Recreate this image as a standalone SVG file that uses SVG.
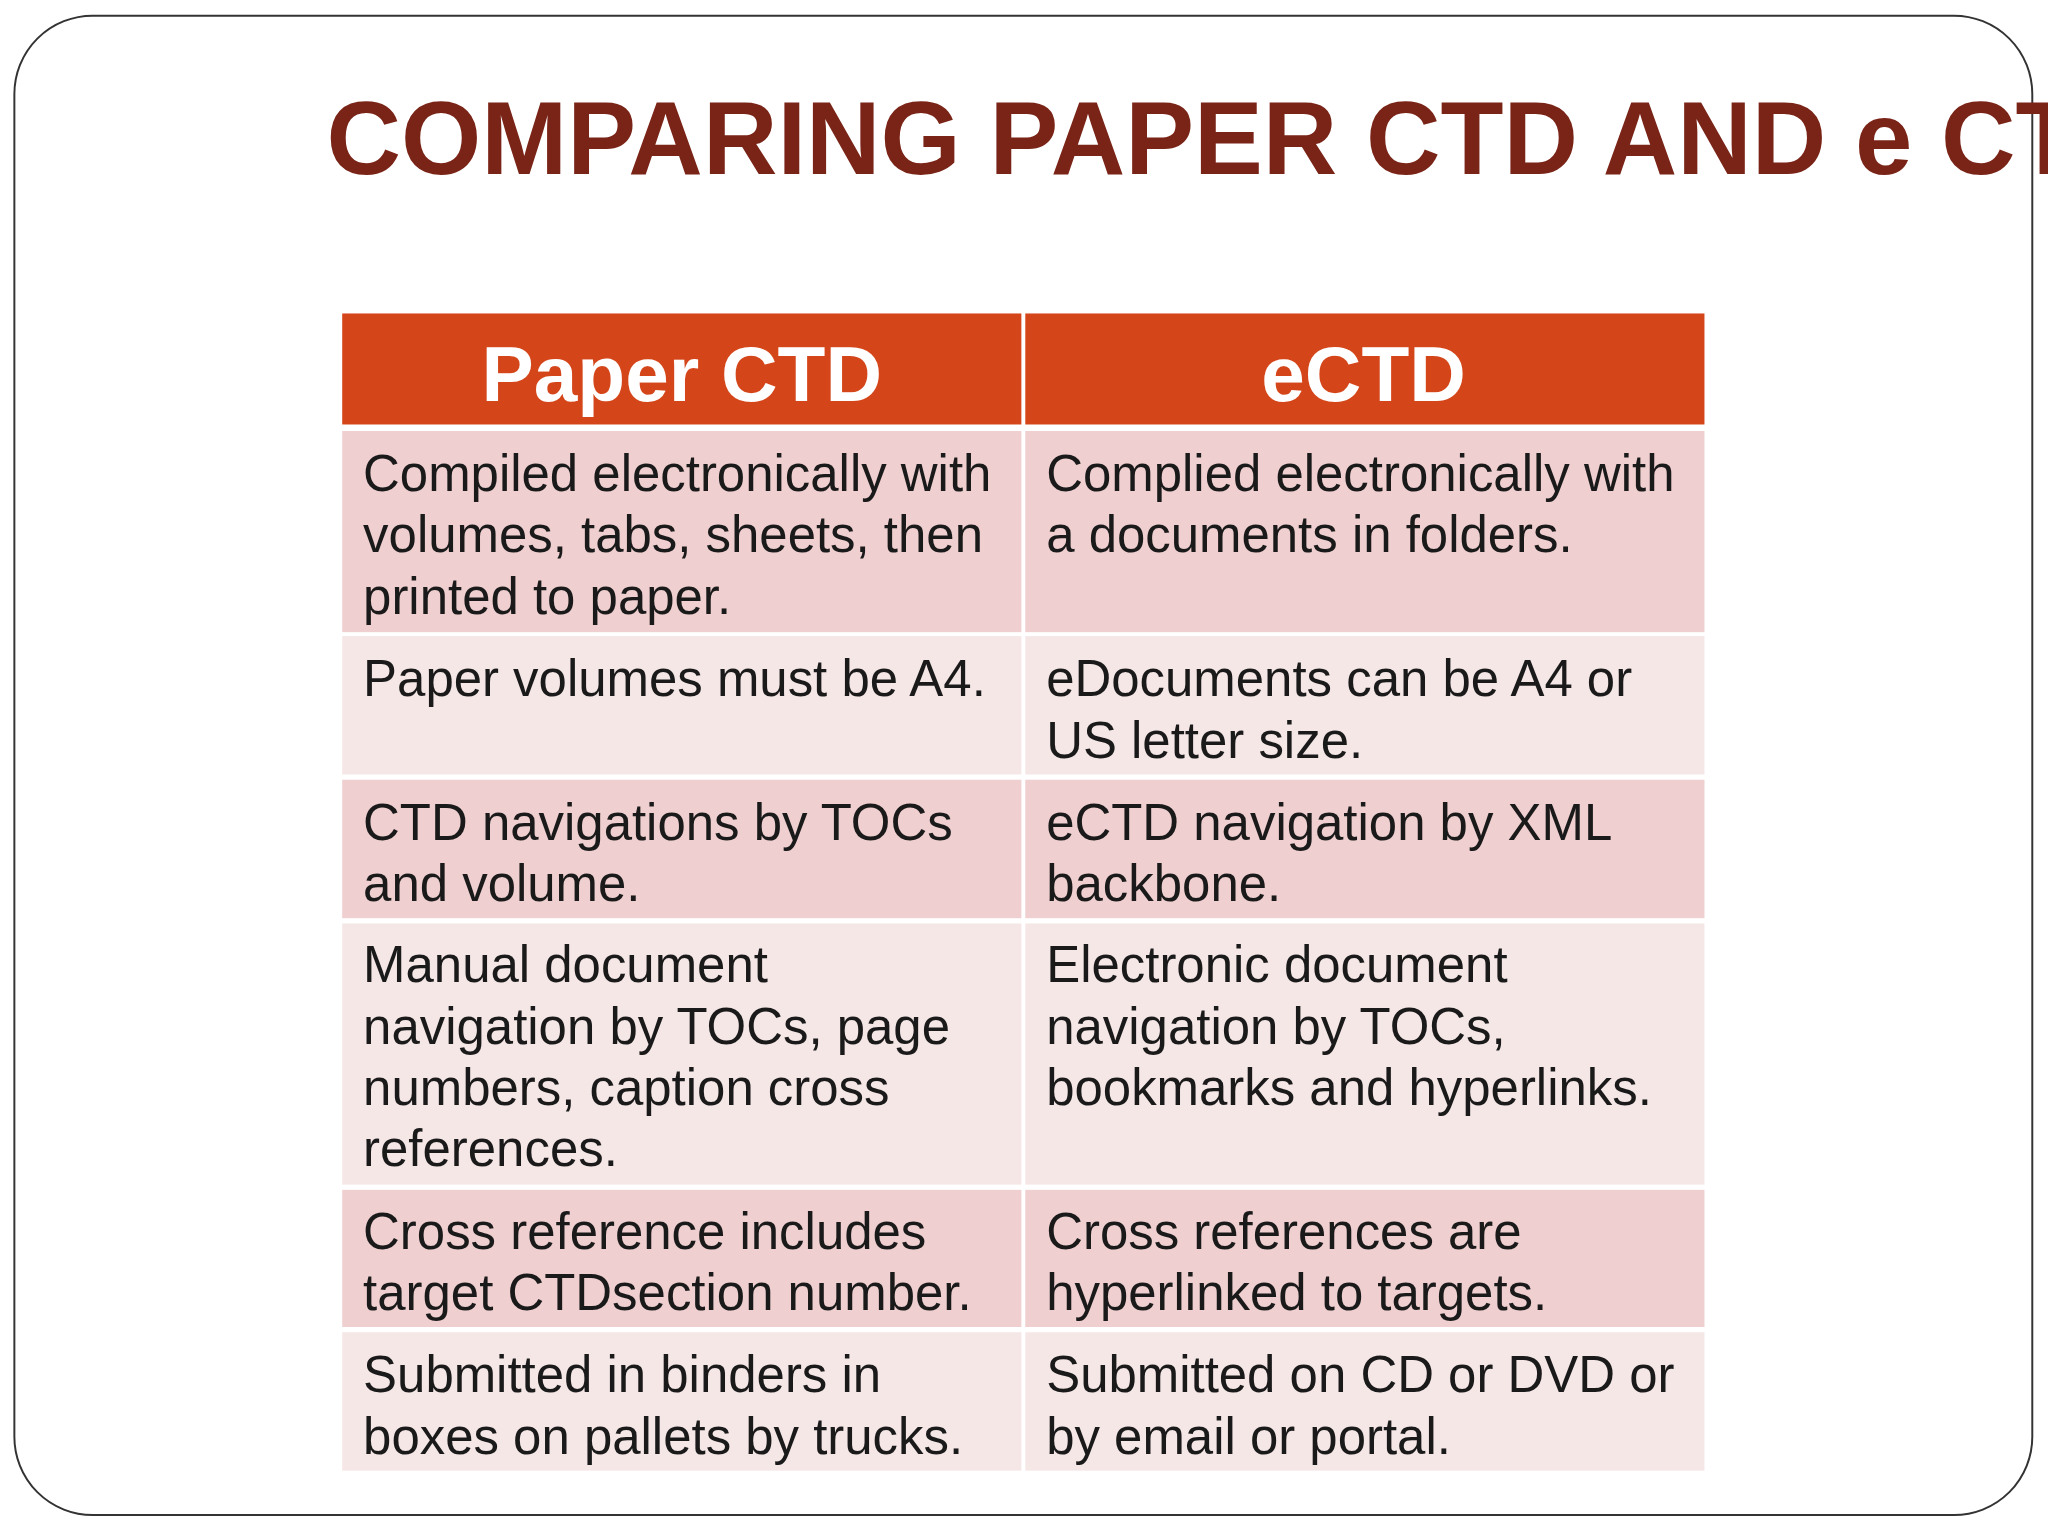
<svg xmlns="http://www.w3.org/2000/svg" width="2048" height="1536" viewBox="0 0 2048 1536">
<style>
.t{font-family:"Liberation Sans",Arial,sans-serif;font-size:39px;fill:#1a1a1a}
.h{font-family:"Liberation Sans",Arial,sans-serif;font-size:60px;font-weight:bold;fill:#fff;text-anchor:middle}
.a{fill:#efcfcf}.b{fill:#f6e7e7}
</style>
<rect width="2048" height="1536" fill="#fff"/>
<g transform="scale(1.3061)">
<rect x="11" y="12" width="1545" height="1148" rx="60" fill="#fff" stroke="#333" stroke-width="1.5"/>
<text x="250" y="133" style="font-family:'Liberation Sans',Arial,sans-serif;font-size:79px;font-weight:bold;fill:#7a2418">COMPARING PAPER CTD AND e CTD</text>
<g id="header">
<rect x="262" y="240" width="520" height="85" fill="#d4461a"/>
<rect x="785" y="240" width="520" height="85" fill="#d4461a"/>
<text class="h" x="522" y="307">Paper CTD</text>
<text class="h" x="1044" y="307">eCTD</text>
</g>
<g id="row1"><rect class="a" x="262" y="330" width="520" height="154"/><rect class="a" x="785" y="330" width="520" height="154"/>
<text class="t" x="278" y="376">Compiled electronically with</text><text class="t" x="278" y="423">volumes, tabs, sheets, then</text><text class="t" x="278" y="470">printed to paper.</text>
<text class="t" x="801" y="376">Complied electronically with</text><text class="t" x="801" y="423">a documents in folders.</text></g>
<g id="row2"><rect class="b" x="262" y="487" width="520" height="106"/><rect class="b" x="785" y="487" width="520" height="106"/>
<text class="t" x="278" y="533">Paper volumes must be A4.</text>
<text class="t" x="801" y="533">eDocuments can be A4 or</text><text class="t" x="801" y="580">US letter size.</text></g>
<g id="row3"><rect class="a" x="262" y="597" width="520" height="106"/><rect class="a" x="785" y="597" width="520" height="106"/>
<text class="t" x="278" y="643">CTD navigations by TOCs</text><text class="t" x="278" y="690">and volume.</text>
<text class="t" x="801" y="643">eCTD navigation by XML</text><text class="t" x="801" y="690">backbone.</text></g>
<g id="row4"><rect class="b" x="262" y="707" width="520" height="200"/><rect class="b" x="785" y="707" width="520" height="200"/>
<text class="t" x="278" y="752">Manual document</text><text class="t" x="278" y="799">navigation by TOCs, page</text><text class="t" x="278" y="846">numbers, caption cross</text><text class="t" x="278" y="893">references.</text>
<text class="t" x="801" y="752">Electronic document</text><text class="t" x="801" y="799">navigation by TOCs,</text><text class="t" x="801" y="846">bookmarks and hyperlinks.</text></g>
<g id="row5"><rect class="a" x="262" y="911" width="520" height="105"/><rect class="a" x="785" y="911" width="520" height="105"/>
<text class="t" x="278" y="956">Cross reference includes</text><text class="t" x="278" y="1003">target CTDsection number.</text>
<text class="t" x="801" y="956">Cross references are</text><text class="t" x="801" y="1003">hyperlinked to targets.</text></g>
<g id="row6"><rect class="b" x="262" y="1020" width="520" height="106"/><rect class="b" x="785" y="1020" width="520" height="106"/>
<text class="t" x="278" y="1066">Submitted in binders in</text><text class="t" x="278" y="1113">boxes on pallets by trucks.</text>
<text class="t" x="801" y="1066">Submitted on CD or DVD or</text><text class="t" x="801" y="1113">by email or portal.</text></g>
</g>
</svg>
